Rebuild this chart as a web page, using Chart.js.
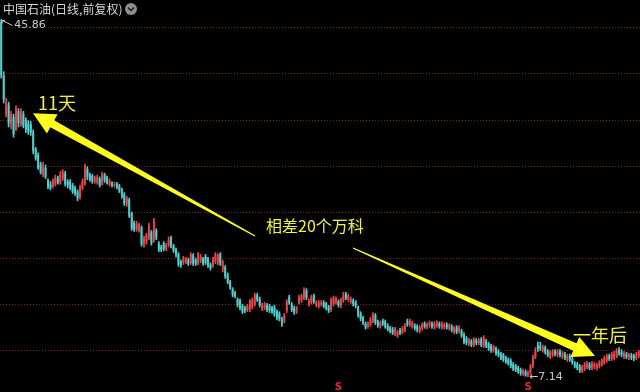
<!DOCTYPE html>
<html>
<head>
<meta charset="utf-8">
<script src="https://cdn.jsdelivr.net/npm/chart.js@4/dist/chart.umd.min.js"></script>
<style>
  html, body { margin: 0; padding: 0; background: #000; overflow: hidden; }
  canvas { display: block; }
</style>
</head>
<body>
<canvas id="kline" width="640" height="392"></canvas>
<script>
// 中国石油 日K线(前复权)
const openP = [
  45.6, 39.8, 35.6, 36.6, 34.5, 35.3, 34.0, 35.9, 34.5, 35.6,
  34.9, 34.6, 34.5, 33.6, 31.8, 31.2, 30.2, 29.0, 29.8, 28.4,
  28.0, 27.8, 28.0, 28.6, 28.2, 28.6, 29.2, 28.3, 28.3, 27.9,
  27.6, 27.2, 26.6, 27.6, 28.1, 29.6, 29.0, 28.9, 28.3, 28.2,
  28.6, 28.1, 29.0, 28.7, 28.0, 28.1, 27.9, 28.0, 27.8, 27.4,
  26.9, 25.8, 26.3, 24.9, 23.8, 23.1, 23.0, 23.3, 21.5, 21.7,
  22.2, 22.8, 21.9, 23.0, 21.6, 21.2, 21.6, 21.0, 21.4, 22.2,
  21.3, 20.9, 20.4, 19.6, 19.5, 19.6, 19.8, 19.5, 20.3, 19.8,
  19.5, 19.7, 19.9, 20.2, 19.9, 19.3, 19.2, 19.6, 19.5, 20.4,
  18.8, 19.0, 18.2, 17.4, 16.6, 16.2, 15.5, 15.4, 14.8, 14.6,
  14.4, 14.4, 14.7, 15.0, 16.0, 15.6, 14.5, 14.6, 14.9, 14.8,
  14.6, 14.7, 14.2, 14.0, 13.4, 13.2, 14.3, 15.8, 15.0, 14.6,
  14.2, 15.2, 15.4, 15.7, 16.5, 15.0, 15.2, 15.9, 14.9, 14.8,
  15.0, 15.2, 15.0, 14.7, 14.4, 15.0, 15.2, 15.3, 14.8, 15.4,
  16.1, 15.5, 15.3, 15.4, 15.2, 14.6, 14.0, 13.5, 12.9, 12.6,
  12.8, 13.2, 13.8, 13.1, 12.6, 13.2, 13.1, 12.7, 12.4, 12.3,
  11.8, 11.6, 12.2, 12.0, 12.2, 13.2, 12.8, 12.6, 12.7, 12.6,
  12.1, 12.4, 12.9, 12.5, 12.7, 12.9, 12.5, 12.7, 12.9, 12.5,
  12.5, 12.8, 12.4, 12.6, 12.0, 12.5, 12.1, 12.1, 11.7, 11.3,
  10.7, 11.0, 10.6, 11.1, 10.8, 11.2, 10.5, 11.0, 10.7, 10.5,
  10.0, 10.2, 9.9, 9.6, 9.5, 9.2, 9.0, 8.9, 8.5, 8.3,
  8.1, 7.9, 7.5, 7.7, 7.3, 7.6, 8.3, 9.3, 10.6, 10.5,
  10.0, 10.3, 9.9, 9.3, 9.5, 9.9, 9.5, 9.9, 9.3, 9.6,
  9.0, 9.4, 9.1, 8.6, 8.5, 8.3, 7.8, 8.0, 8.2, 8.5,
  8.1, 8.2, 8.1, 8.3, 8.5, 8.7, 8.9, 9.4, 9.1, 9.2,
  9.4, 10.0, 9.8, 9.3, 9.6, 9.2, 9.5, 9.4, 9.2, 9.4
];
const closeP = [
  39.8, 37.2, 36.8, 34.6, 35.6, 33.4, 36.2, 34.6, 35.9, 34.3,
  33.9, 33.7, 33.6, 31.6, 30.8, 29.8, 29.3, 29.9, 28.8, 27.7,
  27.6, 28.4, 28.7, 28.2, 29.1, 29.3, 28.0, 27.9, 27.6, 27.2,
  27.0, 26.5, 27.7, 28.3, 30.0, 28.8, 28.5, 28.3, 28.7, 28.8,
  27.9, 29.1, 28.4, 28.2, 28.4, 27.9, 28.0, 27.7, 27.3, 26.7,
  25.9, 26.5, 24.6, 23.2, 23.1, 23.7, 23.6, 21.5, 22.1, 22.5,
  23.5, 21.6, 24.0, 22.2, 20.9, 20.9, 21.0, 21.4, 22.0, 21.3,
  20.8, 20.3, 19.3, 19.2, 20.0, 19.9, 19.4, 20.4, 19.4, 19.4,
  20.4, 20.2, 19.4, 19.5, 19.2, 18.9, 19.9, 20.4, 20.3, 19.4,
  19.6, 18.0, 17.4, 16.8, 16.0, 15.9, 14.9, 14.6, 14.2, 14.3,
  14.8, 15.3, 15.5, 16.0, 15.5, 14.9, 14.9, 15.0, 14.4, 14.3,
  14.2, 13.9, 13.5, 13.4, 12.9, 13.8, 15.3, 15.2, 14.4, 14.1,
  14.6, 15.8, 15.9, 16.6, 15.7, 15.4, 15.8, 15.3, 15.2, 15.2,
  15.2, 14.8, 14.6, 14.3, 15.5, 15.7, 15.6, 14.9, 15.5, 16.0,
  15.7, 15.9, 15.6, 15.0, 14.8, 13.8, 13.4, 13.0, 12.5, 12.9,
  13.4, 13.9, 13.0, 12.7, 13.0, 12.9, 12.6, 12.3, 12.1, 11.9,
  12.3, 12.0, 11.9, 12.4, 12.7, 12.8, 13.2, 13.0, 12.4, 12.2,
  12.5, 12.8, 12.6, 12.8, 13.0, 12.6, 12.9, 13.0, 12.6, 12.9,
  12.8, 12.5, 12.7, 12.2, 12.4, 12.0, 12.5, 11.6, 10.9, 10.8,
  11.1, 10.6, 11.2, 10.8, 11.1, 10.6, 11.4, 10.5, 10.2, 10.0,
  10.4, 9.7, 9.5, 9.2, 9.0, 8.8, 8.6, 8.3, 8.0, 7.9,
  7.7, 7.5, 7.8, 7.3, 7.6, 8.3, 9.3, 10.0, 10.1, 10.2,
  10.4, 9.8, 9.5, 9.8, 9.9, 9.6, 9.9, 9.5, 9.7, 9.2,
  9.4, 9.0, 8.7, 8.3, 8.1, 7.8, 8.2, 8.5, 8.6, 8.1,
  8.6, 8.5, 8.4, 8.7, 8.9, 9.2, 9.4, 9.1, 9.6, 9.7,
  10.0, 9.7, 9.5, 9.7, 9.3, 9.5, 9.2, 9.1, 9.6, 9.8
];
const highP = [
  45.86, 40.2, 37.3, 36.9, 35.9, 35.6, 36.5, 36.2, 36.2, 35.9,
  35.2, 34.9, 34.8, 33.9, 32.0, 31.4, 30.4, 30.4, 30.1, 28.6,
  28.3, 28.6, 29.0, 28.9, 29.4, 29.6, 29.4, 28.5, 28.5, 28.1,
  27.8, 27.4, 27.9, 28.6, 30.2, 29.9, 29.2, 29.1, 28.9, 29.0,
  28.8, 29.3, 29.2, 28.9, 28.6, 28.3, 28.2, 28.2, 28.0, 27.6,
  27.1, 26.7, 26.5, 25.0, 24.0, 24.0, 23.8, 23.5, 22.4, 22.7,
  23.8, 23.0, 24.3, 23.2, 21.8, 21.4, 21.8, 21.6, 22.3, 22.4,
  21.5, 21.1, 20.6, 19.8, 20.2, 20.1, 20.0, 20.6, 20.5, 20.0,
  20.6, 20.4, 20.1, 20.4, 20.1, 19.5, 20.1, 20.6, 20.5, 20.6,
  19.8, 19.2, 18.4, 17.6, 16.8, 16.4, 15.7, 15.6, 15.0, 14.8,
  15.0, 15.5, 15.7, 16.2, 16.2, 15.8, 15.1, 15.2, 15.1, 15.0,
  14.8, 14.9, 14.4, 14.2, 13.6, 14.0, 15.5, 16.0, 15.2, 14.8,
  14.8, 16.0, 16.1, 16.8, 16.7, 15.6, 16.0, 16.1, 15.4, 15.4,
  15.4, 15.4, 15.2, 14.9, 15.7, 15.9, 15.8, 15.5, 15.7, 16.3,
  16.3, 16.1, 15.8, 15.6, 15.4, 14.8, 14.2, 13.7, 13.1, 13.1,
  13.6, 14.1, 14.0, 13.3, 13.2, 13.4, 13.3, 12.9, 12.6, 12.5,
  12.5, 12.2, 12.4, 12.6, 12.9, 13.4, 13.4, 13.2, 12.9, 12.8,
  12.7, 13.0, 13.1, 13.0, 13.2, 13.1, 13.1, 13.2, 13.1, 13.1,
  13.0, 13.0, 12.9, 12.8, 12.6, 12.7, 12.7, 12.3, 11.9, 11.5,
  11.3, 11.2, 11.4, 11.3, 11.3, 11.4, 11.6, 11.2, 10.9, 10.7,
  10.6, 10.4, 10.1, 9.8, 9.7, 9.4, 9.2, 9.1, 8.7, 8.5,
  8.3, 8.1, 8.0, 7.9, 7.8, 8.5, 9.5, 10.3, 10.9, 10.9,
  10.6, 10.5, 10.1, 10.0, 10.1, 10.1, 10.1, 10.1, 9.9, 9.8,
  9.6, 9.6, 9.3, 8.8, 8.7, 8.5, 8.4, 8.7, 8.8, 8.7,
  8.8, 8.7, 8.6, 8.9, 9.1, 9.4, 9.6, 9.6, 9.8, 9.9,
  10.2, 10.3, 10.1, 9.9, 9.8, 9.7, 9.7, 9.6, 9.8, 10.0
];
const lowP = [
  39.5, 36.8, 35.3, 34.2, 34.0, 33.1, 33.8, 34.2, 34.3, 34.1,
  33.6, 33.4, 33.3, 31.3, 30.6, 29.6, 29.1, 28.8, 28.6, 27.5,
  27.4, 27.6, 27.8, 28.0, 28.0, 28.4, 27.8, 27.6, 27.4, 27.0,
  26.8, 26.2, 26.4, 27.4, 27.9, 28.5, 28.3, 28.1, 28.1, 28.0,
  27.7, 27.9, 28.2, 28.0, 27.8, 27.7, 27.7, 27.5, 27.1, 26.5,
  25.7, 25.6, 24.4, 23.0, 22.9, 22.9, 22.8, 21.3, 21.2, 21.5,
  22.0, 21.4, 21.7, 22.0, 20.7, 20.7, 20.8, 20.8, 21.2, 21.1,
  20.6, 20.1, 19.1, 19.0, 19.3, 19.4, 19.2, 19.3, 19.2, 19.2,
  19.3, 19.5, 19.2, 19.3, 19.0, 18.7, 19.0, 19.4, 19.3, 19.2,
  18.5, 17.8, 17.2, 16.6, 15.8, 15.7, 14.7, 14.4, 14.0, 14.1,
  14.2, 14.2, 14.5, 14.8, 15.3, 14.7, 14.3, 14.4, 14.2, 14.1,
  14.0, 13.7, 13.3, 13.2, 12.6, 13.0, 14.1, 15.0, 14.2, 13.9,
  14.0, 15.0, 15.2, 15.5, 15.5, 14.8, 15.0, 15.1, 14.7, 14.6,
  14.8, 14.6, 14.4, 14.1, 14.2, 14.8, 15.0, 14.7, 14.6, 15.2,
  15.5, 15.3, 15.1, 14.8, 14.6, 13.6, 13.2, 12.8, 12.3, 12.4,
  12.6, 13.0, 12.8, 12.5, 12.4, 12.7, 12.4, 12.1, 11.9, 11.7,
  11.6, 11.4, 11.7, 11.8, 12.0, 12.6, 12.6, 12.4, 12.2, 12.0,
  11.9, 12.2, 12.4, 12.3, 12.5, 12.4, 12.3, 12.5, 12.4, 12.3,
  12.3, 12.3, 12.2, 12.0, 11.8, 11.8, 11.9, 11.4, 10.7, 10.6,
  10.5, 10.4, 10.4, 10.6, 10.6, 10.4, 10.3, 10.3, 10.0, 9.8,
  9.8, 9.5, 9.3, 9.0, 8.8, 8.6, 8.4, 8.1, 7.8, 7.7,
  7.5, 7.3, 7.3, 7.2, 7.14, 7.4, 8.1, 9.1, 9.9, 10.0,
  9.8, 9.6, 9.3, 9.1, 9.3, 9.4, 9.3, 9.3, 9.1, 9.0,
  8.8, 8.8, 8.5, 8.1, 7.9, 7.6, 7.6, 7.8, 8.0, 7.9,
  7.9, 8.0, 7.9, 8.1, 8.3, 8.5, 8.7, 8.9, 8.9, 9.0,
  9.2, 9.5, 9.3, 9.1, 9.1, 9.0, 9.0, 8.9, 9.0, 9.2
];

// 价格网格线 (每 5 元一条)
const gridLevels = [10, 15, 20, 25, 30, 35, 40, 45];
// 买卖信号 S 所在的K线
const signalBars = [137, 214];

// 标注箭头: [K线序号, 价格]
const arrowA = { from: [103.1, 22.4], to: [12.9, 35.7] };
const arrowB = { from: [142.9, 21.1], to: [241.2, 9.4] };

const UP = '#e3464b';
const DOWN = '#52cfcf';
const candleColor = i => (closeP[i] >= openP[i] ? UP : DOWN);

const labels = openP.map((_, i) => i);

function drawArrow(ctx, x0, y0, x1, y1) {
  const dx = x1 - x0, dy = y1 - y0, len = Math.hypot(dx, dy);
  const ux = dx / len, uy = dy / len, nx = -uy, ny = ux;
  const head = 22, hw = 11, bw = 8, tw = 1;
  const bx = x1 - ux * head, by = y1 - uy * head;
  ctx.beginPath();
  ctx.moveTo(x0 + nx * tw / 2, y0 + ny * tw / 2);
  ctx.lineTo(bx + nx * bw / 2, by + ny * bw / 2);
  ctx.lineTo(bx + nx * hw, by + ny * hw);
  ctx.lineTo(x1, y1);
  ctx.lineTo(bx - nx * hw, by - ny * hw);
  ctx.lineTo(bx - nx * bw / 2, by - ny * bw / 2);
  ctx.lineTo(x0 - nx * tw / 2, y0 - ny * tw / 2);
  ctx.closePath();
  ctx.fill();
}

const decor = {
  id: 'decor',
  beforeDatasetsDraw(chart) {
    const { ctx, chartArea: a, scales: { y } } = chart;
    ctx.save();
    ctx.strokeStyle = '#741d1d';
    ctx.lineWidth = 1;
    ctx.setLineDash([1, 2]);
    gridLevels.forEach(v => {
      const py = Math.round(y.getPixelForValue(v)) + 0.5;
      ctx.beginPath();
      ctx.moveTo(a.left, py);
      ctx.lineTo(a.right, py);
      ctx.stroke();
    });
    ctx.restore();
  },
  afterDraw(chart) {
    const { ctx, scales: { x, y } } = chart;
    const font = '"Noto Sans CJK SC", "Noto Sans", sans-serif';
    ctx.save();

    // 标题
    ctx.fillStyle = '#d6d6d6';
    ctx.font = '12px ' + font;
    ctx.textBaseline = 'middle';
    ctx.fillText('中国石油(日线,前复权)', 3, 9);
    ctx.fillStyle = '#8e8e8e';
    ctx.beginPath();
    ctx.arc(131, 9, 6, 0, Math.PI * 2);
    ctx.fill();
    ctx.strokeStyle = '#1a1a1a';
    ctx.lineWidth = 1.5;
    ctx.beginPath();
    ctx.moveTo(128, 7.5);
    ctx.lineTo(131, 10.5);
    ctx.lineTo(134, 7.5);
    ctx.stroke();

    // 最高价 / 最低价标记
    const iMax = highP.indexOf(Math.max(...highP));
    const iMin = lowP.indexOf(Math.min(...lowP));
    const hx = x.getPixelForValue(iMax), hy = y.getPixelForValue(highP[iMax]);
    ctx.strokeStyle = '#c8c8c8';
    ctx.lineWidth = 1;
    ctx.beginPath();
    ctx.moveTo(hx + 1, hy + 1);
    ctx.lineTo(hx + 4, hy + 1);
    ctx.moveTo(hx + 1, hy + 1);
    ctx.lineTo(hx + 1, hy + 4);
    ctx.moveTo(hx + 1, hy + 1);
    ctx.lineTo(hx + 11, hy + 6);
    ctx.stroke();
    ctx.fillStyle = '#c8c8c8';
    ctx.font = '11px "DejaVu Sans", sans-serif';
    ctx.fillText(highP[iMax].toFixed(2), hx + 13, hy + 6);

    const lx = x.getPixelForValue(iMin), ly = y.getPixelForValue(lowP[iMin]);
    ctx.fillText('←' + lowP[iMin].toFixed(2), lx + 1, ly);

    // 信号 S
    ctx.fillStyle = '#e8283a';
    ctx.font = 'bold 10px "DejaVu Sans", sans-serif';
    ctx.textAlign = 'center';
    signalBars.forEach(i => {
      ctx.fillText('S', x.getPixelForValue(i), 387);
    });
    ctx.textAlign = 'left';

    // 黄色箭头
    ctx.fillStyle = '#ffff1e';
    [arrowA, arrowB].forEach(ar => {
      drawArrow(ctx,
        x.getPixelForValue(ar.from[0]), y.getPixelForValue(ar.from[1]),
        x.getPixelForValue(ar.to[0]), y.getPixelForValue(ar.to[1]));
    });

    // 黄色文字
    ctx.fillStyle = '#f2f23a';
    ctx.font = '18px ' + font;
    ctx.fillText('11天', 38, 103);
    ctx.fillText('一年后', 573, 335);
    ctx.font = '16px ' + font;
    ctx.fillText('相差20个万科', 266, 226);

    ctx.restore();
  }
};

new Chart(document.getElementById('kline'), {
  type: 'bar',
  data: {
    labels: labels,
    datasets: [
      {
        label: 'wick',
        data: lowP.map((l, i) => [l, highP[i]]),
        backgroundColor: c => candleColor(c.dataIndex),
        barThickness: 1,
        grouped: false,
        order: 2
      },
      {
        label: 'body',
        data: openP.map((o, i) => [o, closeP[i]]),
        backgroundColor: c => candleColor(c.dataIndex),
        barPercentage: 0.78,
        categoryPercentage: 1,
        grouped: false,
        order: 1
      }
    ]
  },
  options: {
    responsive: false,
    devicePixelRatio: 1,
    animation: false,
    events: [],
    layout: { padding: 0 },
    scales: {
      x: { display: false, offset: true },
      y: { display: false, min: 5.5, max: 47.96 }
    },
    plugins: {
      legend: { display: false },
      tooltip: { enabled: false }
    }
  },
  plugins: [decor]
});
</script>
</body>
</html>
